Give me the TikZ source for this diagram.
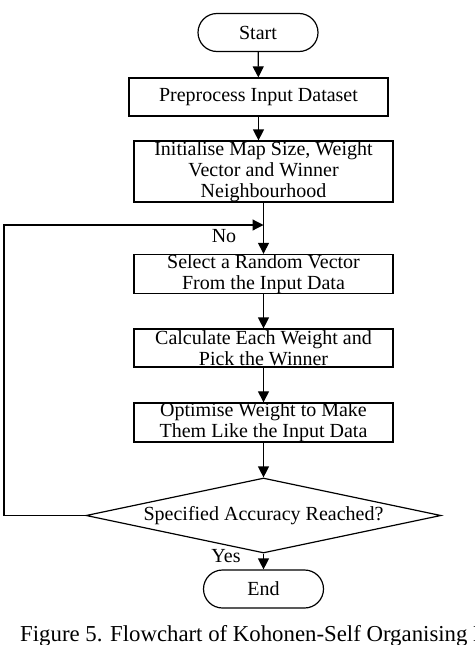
\documentclass[tikz,border=0pt]{standalone}
\usepackage{fontspec}
\setmainfont{Liberation Serif}
\usetikzlibrary{arrows.meta,shapes.geometric}

\begin{document}
\begin{tikzpicture}[x=1pt,y=-1pt,
  flowbox/.style={draw,line width=1.2pt,minimum width=259pt,minimum height=38pt,inner sep=0pt,align=center,font=\fontsize{20}{21}\selectfont},
  terminal/.style={flowbox,rounded corners=19pt,minimum width=120pt},
  decision/.style={draw,line width=1.2pt,diamond,aspect=4.73,inner sep=0pt,minimum width=355pt,minimum height=75pt,font=\fontsize{20}{21}\selectfont},
  arrow/.style={line width=1.2pt,-{Triangle[length=11pt,width=11pt]}},
  tag/.style={inner sep=0pt,font=\fontsize{20}{21}\selectfont}]
\useasboundingbox (0,0) rectangle (474,645);
\clip (0,0) rectangle (474,645);
% boxes
\node[terminal] (start) at (258,32.5) {Start};
\node[flowbox] (prep) at (258.5,97) {Preprocess Input Dataset};
\node[flowbox,minimum height=61pt] (init) at (263.5,171.5) {Initialise Map Size, Weight\\Vector and Winner\\Neighbourhood};
\node[flowbox] (select) at (263.5,274) {Select a Random Vector\\From the Input Data};
\node[flowbox] (calc) at (263.5,348) {Calculate Each Weight and\\Pick the Winner};
\node[flowbox,minimum height=39pt] (optim) at (263.5,422.5) {Optimise Weight to Make\\Them Like the Input Data};
\node[decision] (accur) at (263.5,515.5) {Specified Accuracy Reached?};
\node[terminal] (end) at (263.5,589) {End};
\coordinate (join) at (263.5,225);
% arrows
\draw[arrow] (start) -- (prep);
\draw[arrow] (prep.south) -- (prep.south |- init.north);
\draw[arrow] (init) -- (select);
\draw[arrow] (select) -- (calc);
\draw[arrow] (calc) -- (optim);
\draw[arrow] (optim) -- (accur);
\draw[arrow] (accur) -- (end);
\draw[arrow] (accur.west) -- ++(-81.5,0) |- (join);
\node[tag] (no) at (224,236) {No};
\node[tag] (yes) at (226,556) {Yes};
% caption
\node[anchor=base west,inner sep=0pt,font=\fontsize{22.8}{27}\selectfont] (caption) at (20,641) {Figure 5. Flowchart of Kohonen-Self Organising Map};
\end{tikzpicture}
\end{document}
